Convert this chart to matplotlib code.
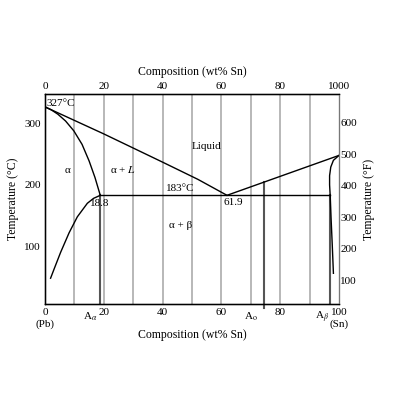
import matplotlib
matplotlib.use('Agg')
import matplotlib.pyplot as plt

plt.rcParams['font.family'] = ['Liberation Serif', 'DejaVu Serif']
plt.rcParams['mathtext.fontset'] = 'stix'
plt.rcParams['font.size'] = 8

# Pb-Sn phase diagram (wt% Sn, deg C)
liq_left_x = [0, 10, 20, 30, 40, 52, 61.9]
liq_left_t = [327, 305, 283, 260, 237, 209, 183]
liq_right_x = [61.9, 100]
liq_right_t = [183, 248]
sol_a_x = [0, 2.2, 4.4, 7.0, 9.8, 12.6, 15.0, 17.0, 18.8]
sol_a_t = [327, 322, 315, 304, 288, 266, 239, 212, 183]
solvus_a_x = [18.8, 16.5, 14.4, 11.0, 8.2, 5.3, 3.1, 1.9]
solvus_a_t = [183, 178, 170, 148, 122, 90, 63, 48]
beta_x = [100, 98.1, 97.2, 96.8, 96.8, 97.0, 97.3, 97.7, 98.1]
beta_t = [248, 240, 229, 215, 200, 183, 146, 103, 56]
eut_t = 183
eut_x = [18.8, 97.0]
grid_x = [10, 20, 30, 40, 50, 60, 70, 80, 90]
a_alpha, a_o, a_beta = 18.8, 74.5, 97.0

bottom_ticks = [0, 20, 40, 60, 80, 100]
bottom_labels = ['0\n(Pb)', '20', '40', '60', '80', '100\n(Sn)']
top_labels = ['0', '20', '40', '60', '80', '1000']
c_ticks = [100, 200, 300]
f_ticks = [100, 200, 300, 400, 500, 600]

fig = plt.figure(figsize=(4, 4), dpi=100)
ax = fig.add_axes([0.1125, 0.24, 0.735, 0.525])
ax.set_xlim(0, 100)
ax.set_ylim(6, 348)

gray = '#ababab'
dark = '#555555'
for gx in grid_x:
    ax.axvline(gx, color=gray, lw=1.2, zorder=1)

# composition lines A_alpha, A_o, A_beta
ax.plot([a_alpha, a_alpha], [6, eut_t], color=dark, lw=1.5, zorder=2)
liq_at_ao = liq_right_t[0] + (a_o - liq_right_x[0]) * (liq_right_t[1] - liq_right_t[0]) / (liq_right_x[1] - liq_right_x[0])
ax.plot([a_o, a_o], [0, liq_at_ao], color=dark, lw=1.5, zorder=2, clip_on=False)
ax.plot([a_beta, a_beta], [6, eut_t], color=dark, lw=1.5, zorder=2)

k = dict(color='black', lw=1.0, zorder=3)
ax.plot(liq_left_x, liq_left_t, **k)
ax.plot(liq_right_x, liq_right_t, **k)
ax.plot(sol_a_x, sol_a_t, **k)
ax.plot(solvus_a_x, solvus_a_t, **k)
ax.plot(beta_x, beta_t, **k)
ax.plot(eut_x, [eut_t, eut_t], **k)

ax.text(0.4, 333, '327°C', ha='left', va='center')
ax.text(55, 262, 'Liquid', ha='center', va='center')
ax.text(7.8, 223, 'α', ha='center', va='center')
ax.text(26.4, 225, 'α + $L$', ha='center', va='center')
ax.text(46, 186, '183°C', ha='center', va='bottom')
ax.text(18.5, 170, '18.8', ha='center', va='center')
ax.text(64.1, 172, '61.9', ha='center', va='center')
ax.text(46, 134, 'α + β', ha='center', va='center')

for s in ['top', 'left', 'bottom']:
    ax.spines[s].set_linewidth(1.0)
ax.spines['right'].set_color('#777777')

ax.set_xticks(bottom_ticks)
ax.set_xticklabels(bottom_labels)
for lab in ax.get_xticklabels():
    lab.set_linespacing(1.3)
ax.set_yticks(c_ticks)
ax.tick_params(length=0, pad=3, labelsize=8)
ax.set_xlabel('Composition (wt% Sn)', fontsize=8.5, labelpad=0)
ax.set_ylabel('Temperature (°C)', fontsize=8.5, labelpad=4)

# A labels under the axis
ax.text(17.9, -0.03, 'A$_\\alpha$', transform=ax.get_xaxis_transform(),
        ha='right', va='top', fontsize=8)
ax.text(72.5, -0.03, 'A$_\\mathrm{o}$', transform=ax.get_xaxis_transform(),
        ha='right', va='top', fontsize=8)
ax.text(96.6, -0.03, 'A$_\\beta$', transform=ax.get_xaxis_transform(),
        ha='right', va='top', fontsize=8)

top = ax.twiny()
top.set_xlim(ax.get_xlim())
top.set_xticks(bottom_ticks)
top.set_xticklabels(top_labels)
top.tick_params(length=0, pad=2, labelsize=8)
top.set_xlabel('Composition (wt% Sn)', fontsize=8.5, labelpad=5)

right = ax.twinx()
right.set_ylim(24, 692)
right.set_yticks(f_ticks)
right.tick_params(length=0, pad=1, labelsize=8)
right.set_ylabel('Temperature (°F)', fontsize=8.5, rotation=90, labelpad=4)
for a in (top, right):
    a.spines['right'].set_color('#777777')

fig.savefig('out.png', dpi=100)
